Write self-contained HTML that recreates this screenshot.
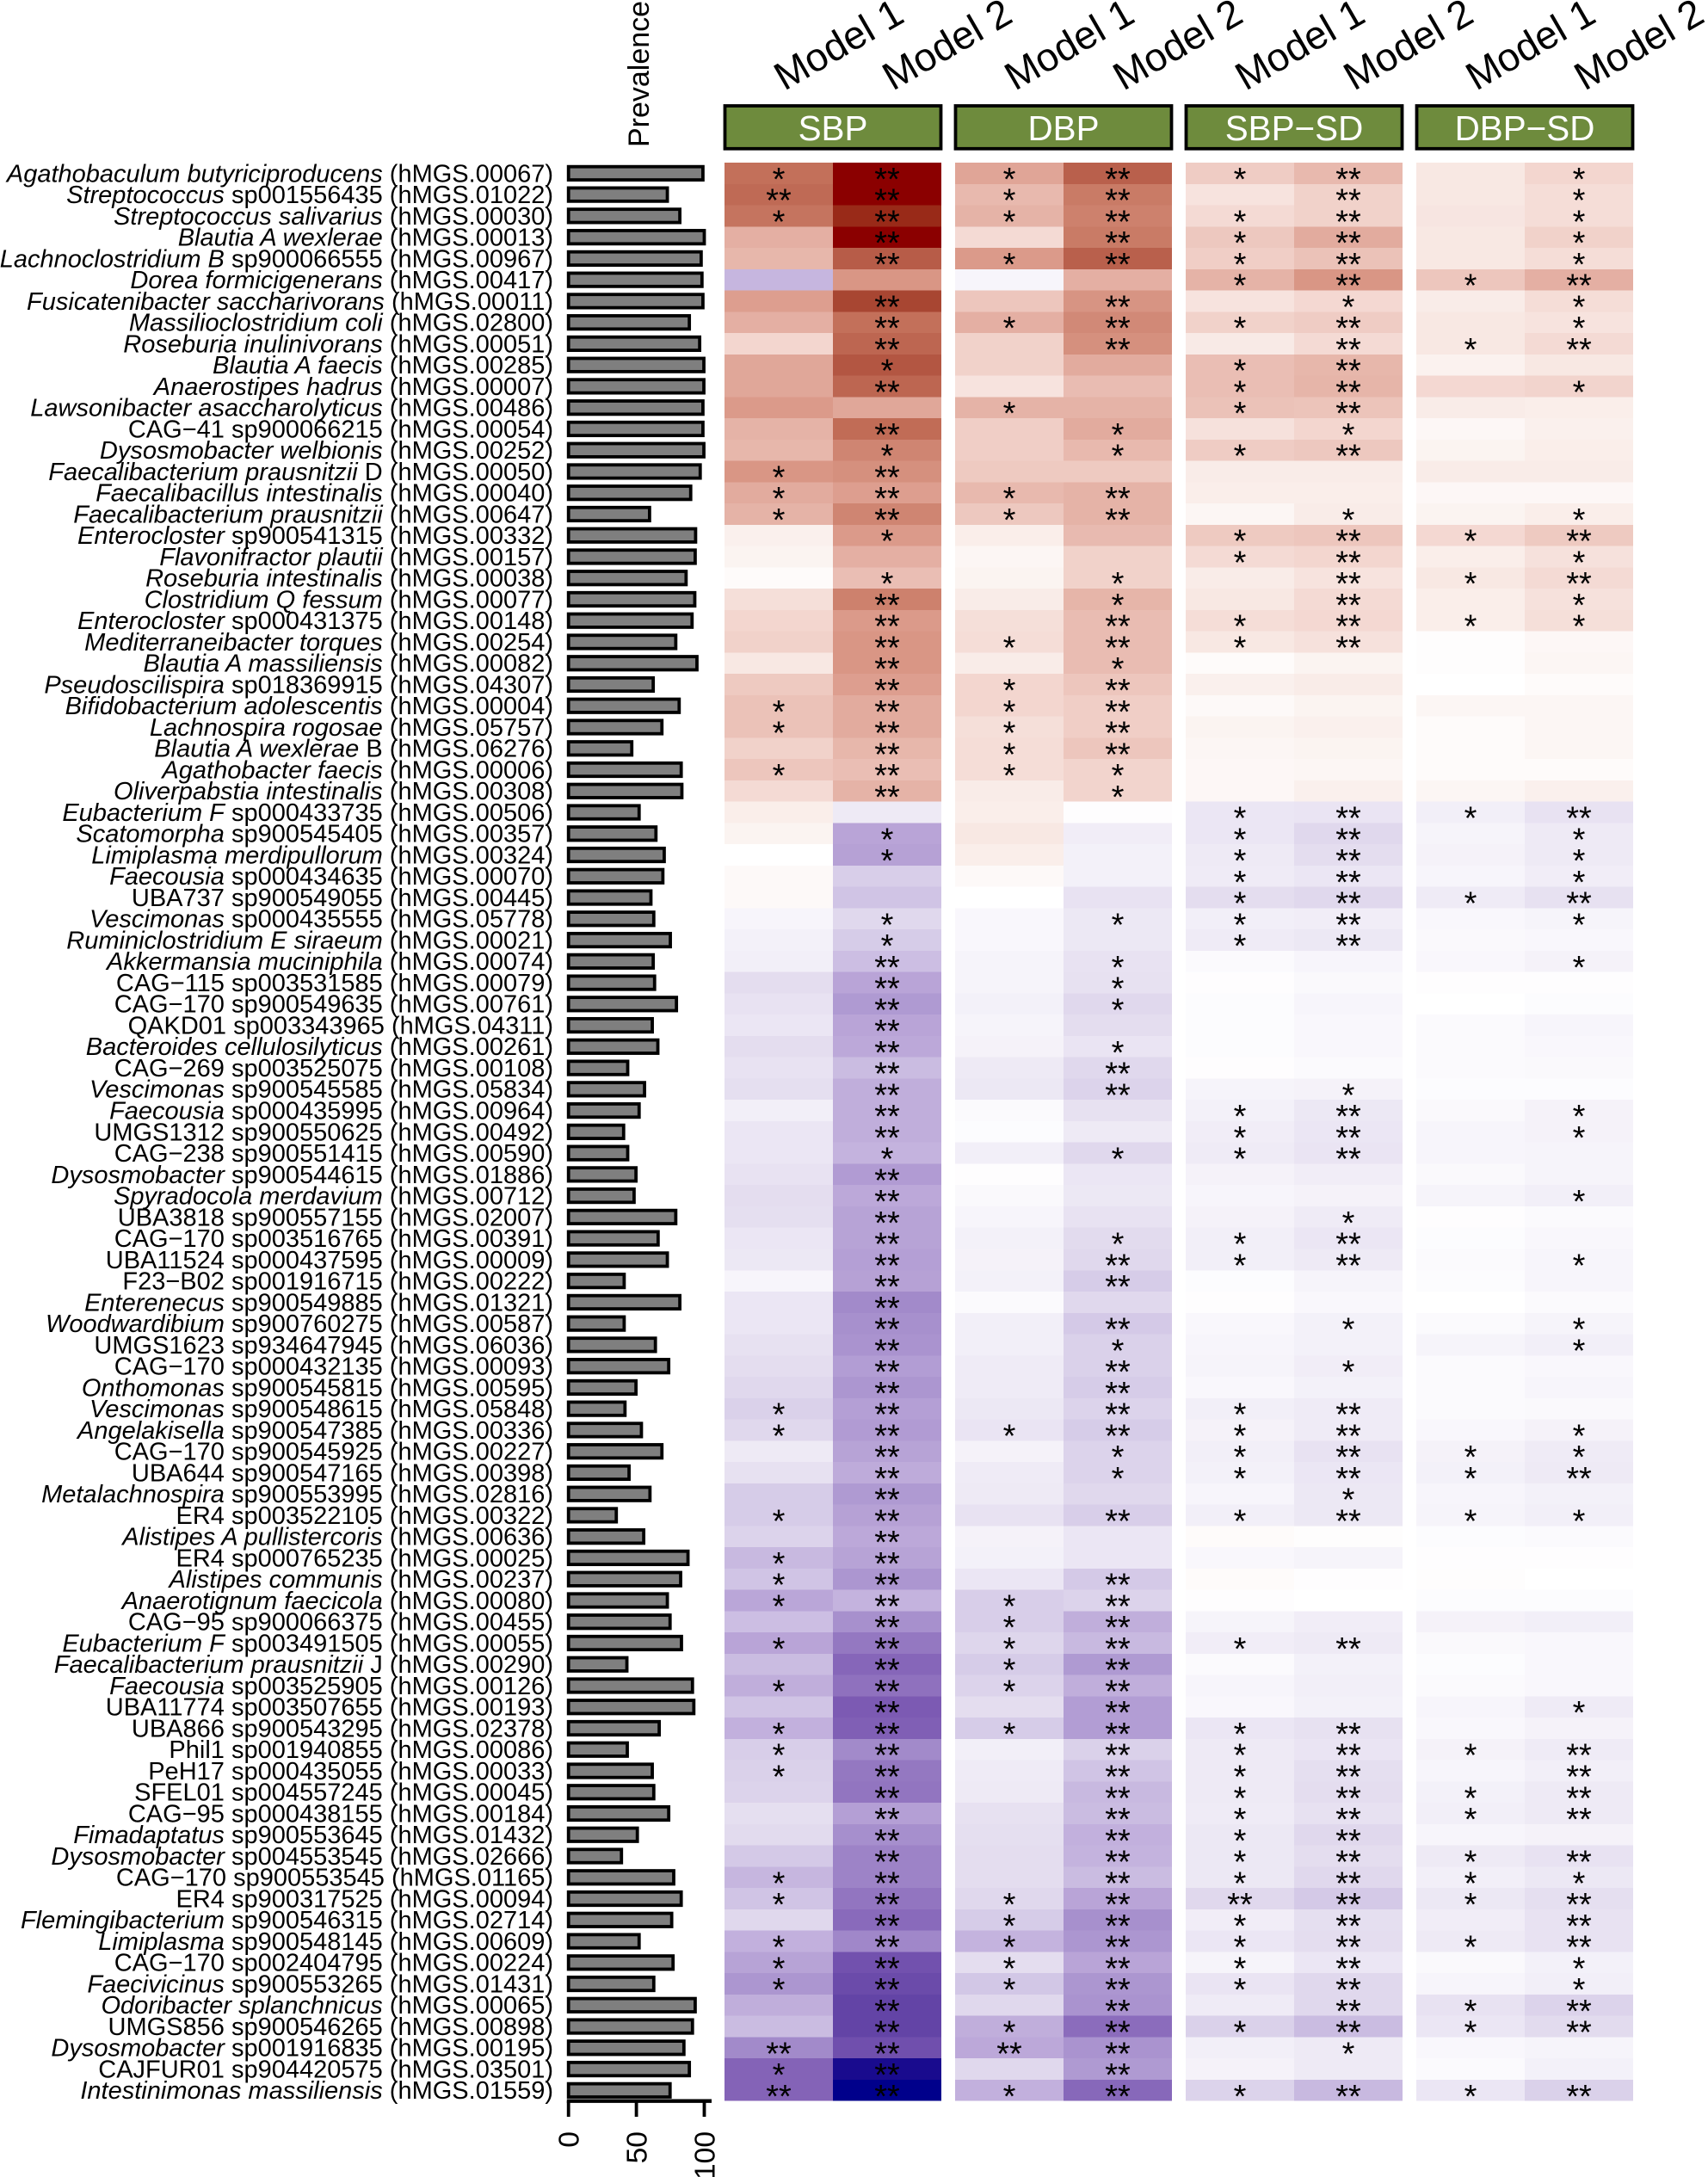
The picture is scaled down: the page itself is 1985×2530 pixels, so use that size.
<!DOCTYPE html>
<html lang="en">
<head>
<meta charset="utf-8">
<title>Species associations with blood pressure</title>
<style>
html,body{margin:0;padding:0;background:#fff;}
body{width:1985px;height:2530px;overflow:hidden;}
svg{display:block;font-family:"Liberation Sans",Arial,sans-serif;}
</style>
</head>
<body>
<svg id="chart" xmlns="http://www.w3.org/2000/svg" width="1985" height="2530" viewBox="0 0 1985 2530"></svg>
<script>
const panelLabels = ["SBP", "DBP", "SBP\u2212SD", "DBP\u2212SD"];
const modelLabels = ["Model 1", "Model 2"];
const prevalenceTicks = [0, 50, 100];

const italicNames = [
"Agathobaculum butyriciproducens","Streptococcus","Streptococcus salivarius","Blautia A wexlerae","Lachnoclostridium B","Dorea formicigenerans","Fusicatenibacter saccharivorans","Massilioclostridium coli","Roseburia inulinivorans","Blautia A faecis",
"Anaerostipes hadrus","Lawsonibacter asaccharolyticus","","Dysosmobacter welbionis","Faecalibacterium prausnitzii","Faecalibacillus intestinalis","Faecalibacterium prausnitzii","Enterocloster","Flavonifractor plautii","Roseburia intestinalis",
"Clostridium Q fessum","Enterocloster","Mediterraneibacter torques","Blautia A massiliensis","Pseudoscilispira","Bifidobacterium adolescentis","Lachnospira rogosae","Blautia A wexlerae","Agathobacter faecis","Oliverpabstia intestinalis",
"Eubacterium F","Scatomorpha","Limiplasma merdipullorum","Faecousia","","Vescimonas","Ruminiclostridium E siraeum","Akkermansia muciniphila","","",
"","Bacteroides cellulosilyticus","","Vescimonas","Faecousia","","","Dysosmobacter","Spyradocola merdavium","",
"","","","Enterenecus","Woodwardibium","","","Onthomonas","Vescimonas","Angelakisella",
"","","Metalachnospira","","Alistipes A pullistercoris","","Alistipes communis","Anaerotignum faecicola","","Eubacterium F",
"Faecalibacterium prausnitzii","Faecousia","","","","","","","Fimadaptatus","Dysosmobacter",
"","","Flemingibacterium","Limiplasma","","Faecivicinus","Odoribacter splanchnicus","","Dysosmobacter","",
"Intestinimonas massiliensis"];

const plainNames = [
"","sp001556435","","","sp900066555","","","","","",
"","","CAG\u221241 sp900066215","","D","","","sp900541315","","",
"","sp000431375","","","sp018369915","","","B","","",
"sp000433735","sp900545405","","sp000434635","UBA737 sp900549055","sp000435555","","","CAG\u2212115 sp003531585","CAG\u2212170 sp900549635",
"QAKD01 sp003343965","","CAG\u2212269 sp003525075","sp900545585","sp000435995","UMGS1312 sp900550625","CAG\u2212238 sp900551415","sp900544615","","UBA3818 sp900557155",
"CAG\u2212170 sp003516765","UBA11524 sp000437595","F23\u2212B02 sp001916715","sp900549885","sp900760275","UMGS1623 sp934647945","CAG\u2212170 sp000432135","sp900545815","sp900548615","sp900547385",
"CAG\u2212170 sp900545925","UBA644 sp900547165","sp900553995","ER4 sp003522105","","ER4 sp000765235","","","CAG\u221295 sp900066375","sp003491505",
"J","sp003525905","UBA11774 sp003507655","UBA866 sp900543295","Phil1 sp001940855","PeH17 sp000435055","SFEL01 sp004557245","CAG\u221295 sp000438155","sp900553645","sp004553545",
"CAG\u2212170 sp900553545","ER4 sp900317525","sp900546315","sp900548145","CAG\u2212170 sp002404795","sp900553265","","UMGS856 sp900546265","sp001916835","CAJFUR01 sp904420575",
""];

const hmgsIds = [
"00067","01022","00030","00013","00967","00417","00011","02800","00051","00285",
"00007","00486","00054","00252","00050","00040","00647","00332","00157","00038",
"00077","00148","00254","00082","04307","00004","05757","06276","00006","00308",
"00506","00357","00324","00070","00445","05778","00021","00074","00079","00761",
"04311","00261","00108","05834","00964","00492","00590","01886","00712","02007",
"00391","00009","00222","01321","00587","06036","00093","00595","05848","00336",
"00227","00398","02816","00322","00636","00025","00237","00080","00455","00055",
"00290","00126","00193","02378","00086","00033","00045","00184","01432","02666",
"01165","00094","02714","00609","00224","01431","00065","00898","00195","03501",
"01559"];

const prevalence = [
99,72.8,82,100,97.7,98.3,99,89,96.6,99.7,
99.7,99,99,99.7,97,90,59.7,93.6,93.3,86.6,
93,91,79,94.6,62.4,81.5,68.8,46.6,83,83.5,
52,64.4,70.5,69.5,60.7,62.8,75,62.4,63.4,79.5,
61.7,65.8,43.6,56,52,40.6,43.6,49.7,48.3,79,
66,72.8,41,82,41,64,73.8,49.7,41.6,53.7,
68.8,44.6,60,35.2,55.4,88,82.6,72.8,74.8,83.2,
43,91.3,92.3,66.8,43.3,61.7,62.8,73.8,50.7,39,
77.5,83,76,52,77,62.8,93.3,91.3,85,89,
74.8];

/* one row per species; columns: SBP M1, SBP M2, DBP M1, DBP M2, SBP-SD M1, M2, DBP-SD M1, M2 */
const effects = [
[70,100,45,78,25,35,12,20],[73,100,35,65,14,22,12,17],[68,94,38,62,18,22,13,17],[40,100,18,65,27,42,12,22],[36,80,50,78,24,30,12,17],
[-35,52,-6,40,38,52,28,40],[48,88,28,53,14,19,10,17],[40,70,40,58,22,25,12,14],[20,75,22,55,11,18,12,18],[44,82,22,42,32,36,7,12],
[44,75,14,33,32,37,19,21],[50,44,38,38,30,29,10,9],[38,72,24,42,15,20,4,8],[36,60,24,35,25,27,6,9],[52,55,26,26,10,10,10,10],
[42,48,35,38,9,9,4,4],[38,60,27,38,5,10,6,9],[8,50,9,34,26,28,19,26],[6,40,5,22,18,20,9,15],[2,32,6,22,10,14,12,18],
[16,62,10,37,12,18,9,15],[20,50,16,33,17,19,9,16],[22,52,17,33,12,15,1,4],[12,52,10,33,2,6,1,5],[26,48,20,28,8,10,0,2],
[30,42,20,24,3,6,5,5],[30,42,16,24,6,8,2,5],[22,36,17,28,5,6,2,5],[28,32,17,21,4,5,2,2],[18,38,10,21,4,8,5,8],
[9,-13,9,-1,-15,-16,-10,-17],[6,-42,12,-11,-15,-22,-7,-13],[0,-44,9,-9,-13,-20,-8,-13],[3,-26,3,-9,-12,-15,-6,-11],[3,-30,0,-17,-20,-22,-12,-18],
[-6,-22,-5,-14,-10,-11,-5,-7],[-9,-27,-5,-14,-12,-14,-4,-5],[-10,-32,-7,-17,-3,-6,-5,-8],[-20,-42,-7,-18,-1,-4,-1,-1],[-17,-48,-9,-22,-2,-6,0,-2],
[-15,-42,-7,-20,-2,-5,-3,-6],[-20,-40,-8,-16,-2,-5,-3,-5],[-17,-33,-13,-22,-1,-3,-3,-4],[-19,-38,-14,-24,-7,-8,-2,-2],[-10,-38,-3,-18,-9,-14,-4,-8],
[-15,-38,-2,-13,-11,-15,-6,-8],[-15,-36,-10,-22,-12,-16,-6,-7],[-17,-47,-1,-15,-8,-11,-4,-7],[-20,-40,-4,-14,-6,-8,-7,-10],[-19,-43,-6,-17,-8,-12,-1,-3],
[-15,-43,-9,-21,-10,-15,-2,-5],[-14,-45,-8,-22,-10,-13,-3,-6],[-6,-44,-9,-27,-2,-7,-2,-6],[-15,-58,-3,-22,-1,-5,0,-3],[-15,-54,-10,-28,-5,-9,-3,-7],
[-18,-52,-10,-25,-6,-9,-7,-10],[-20,-46,-12,-25,-7,-11,-3,-5],[-22,-50,-12,-27,-5,-9,-3,-6],[-25,-45,-14,-24,-10,-12,-3,-4],[-22,-47,-16,-27,-8,-12,-5,-8],
[-13,-43,-8,-24,-10,-17,-8,-12],[-18,-39,-12,-24,-9,-15,-9,-13],[-27,-48,-13,-22,-6,-14,-6,-9],[-27,-44,-17,-26,-10,-14,-7,-10],[-24,-40,-8,-15,2,1,-2,-3],
[-34,-43,-9,-15,-5,-7,-1,-1],[-30,-50,-15,-28,2,-1,1,0],[-41,-36,-26,-24,-1,0,-2,-2],[-32,-54,-26,-38,-7,-11,-8,-10],[-42,-67,-23,-34,-11,-13,-4,-5],
[-33,-75,-27,-48,-3,-9,-2,-5],[-38,-70,-24,-38,-6,-10,-3,-5],[-30,-80,-20,-46,-5,-9,-6,-12],[-37,-78,-27,-46,-15,-18,-5,-8],[-26,-58,-10,-25,-13,-16,-8,-12],
[-25,-67,-12,-30,-13,-19,-6,-10],[-24,-68,-13,-34,-13,-20,-9,-13],[-19,-45,-18,-33,-12,-18,-10,-13],[-21,-55,-19,-37,-14,-22,-6,-8],[-28,-62,-20,-36,-14,-20,-13,-17],
[-35,-62,-20,-33,-14,-22,-10,-14],[-30,-68,-22,-42,-22,-28,-14,-19],[-22,-73,-27,-54,-11,-19,-11,-17],[-37,-60,-36,-50,-15,-20,-13,-17],[-43,-84,-20,-42,-7,-15,-4,-9],
[-50,-87,-29,-50,-16,-22,-6,-10],[-38,-90,-22,-52,-12,-22,-17,-24],[-33,-90,-38,-72,-25,-33,-15,-21],[-58,-85,-40,-52,-10,-13,-5,-7],[-76,-97,-22,-48,-8,-13,-3,-9],
[-76,-100,-37,-74,-24,-34,-15,-25]];

/* number of asterisks printed in each cell, same layout as effects */
const significance = [
[1,2,1,2,1,2,0,1],[2,2,1,2,0,2,0,1],[1,2,1,2,1,2,0,1],[0,2,0,2,1,2,0,1],[0,2,1,2,1,2,0,1],
[0,0,0,0,1,2,1,2],[0,2,0,2,0,1,0,1],[0,2,1,2,1,2,0,1],[0,2,0,2,0,2,1,2],[0,1,0,0,1,2,0,0],
[0,2,0,0,1,2,0,1],[0,0,1,0,1,2,0,0],[0,2,0,1,0,1,0,0],[0,1,0,1,1,2,0,0],[1,2,0,0,0,0,0,0],
[1,2,1,2,0,0,0,0],[1,2,1,2,0,1,0,1],[0,1,0,0,1,2,1,2],[0,0,0,0,1,2,0,1],[0,1,0,1,0,2,1,2],
[0,2,0,1,0,2,0,1],[0,2,0,2,1,2,1,1],[0,2,1,2,1,2,0,0],[0,2,0,1,0,0,0,0],[0,2,1,2,0,0,0,0],
[1,2,1,2,0,0,0,0],[1,2,1,2,0,0,0,0],[0,2,1,2,0,0,0,0],[1,2,1,1,0,0,0,0],[0,2,0,1,0,0,0,0],
[0,0,0,0,1,2,1,2],[0,1,0,0,1,2,0,1],[0,1,0,0,1,2,0,1],[0,0,0,0,1,2,0,1],[0,0,0,0,1,2,1,2],
[0,1,0,1,1,2,0,1],[0,1,0,0,1,2,0,0],[0,2,0,1,0,0,0,1],[0,2,0,1,0,0,0,0],[0,2,0,1,0,0,0,0],
[0,2,0,0,0,0,0,0],[0,2,0,1,0,0,0,0],[0,2,0,2,0,0,0,0],[0,2,0,2,0,1,0,0],[0,2,0,0,1,2,0,1],
[0,2,0,0,1,2,0,1],[0,1,0,1,1,2,0,0],[0,2,0,0,0,0,0,0],[0,2,0,0,0,0,0,1],[0,2,0,0,0,1,0,0],
[0,2,0,1,1,2,0,0],[0,2,0,2,1,2,0,1],[0,2,0,2,0,0,0,0],[0,2,0,0,0,0,0,0],[0,2,0,2,0,1,0,1],
[0,2,0,1,0,0,0,1],[0,2,0,2,0,1,0,0],[0,2,0,2,0,0,0,0],[1,2,0,2,1,2,0,0],[1,2,1,2,1,2,0,1],
[0,2,0,1,1,2,1,1],[0,2,0,1,1,2,1,2],[0,2,0,0,0,1,0,0],[1,2,0,2,1,2,1,1],[0,2,0,0,0,0,0,0],
[1,2,0,0,0,0,0,0],[1,2,0,2,0,0,0,0],[1,2,1,2,0,0,0,0],[0,2,1,2,0,0,0,0],[1,2,1,2,1,2,0,0],
[0,2,1,2,0,0,0,0],[1,2,1,2,0,0,0,0],[0,2,0,2,0,0,0,1],[1,2,1,2,1,2,0,0],[1,2,0,2,1,2,1,2],
[1,2,0,2,1,2,0,2],[0,2,0,2,1,2,1,2],[0,2,0,2,1,2,1,2],[0,2,0,2,1,2,0,0],[0,2,0,2,1,2,1,2],
[1,2,0,2,1,2,1,1],[1,2,1,2,2,2,1,2],[0,2,1,2,1,2,0,2],[1,2,1,2,1,2,1,2],[1,2,1,2,1,2,0,1],
[1,2,1,2,1,2,0,1],[0,2,0,2,0,2,1,2],[0,2,1,2,1,2,1,2],[2,2,2,2,0,1,0,0],[1,2,0,2,0,0,0,0],
[2,2,1,2,1,2,1,2]];

/* ---------- layout ---------- */
const NS = "http://www.w3.org/2000/svg";
const svg = document.getElementById("chart");
const FONT_LABEL = 29, FONT_AXIS = 33.6, FONT_MODEL = 46, FONT_STRIP = 40.4, FONT_STAR = 38;
const heatTop = 189, heatBottom = 2441.7;
const rowHeight = (heatBottom - heatTop) / effects.length;
const panelLeft = 842, panelWidth = 252, panelStep = 268;
const barZero = 660.7, barPerUnit = 1.578, barHeight = 15.4;
const scaleStops = [
 [-100,[0,0,139]],[-95,[42,18,144]],[-90,[99,68,166]],[-80,[124,90,179]],[-70,[143,113,190]],[-60,[160,135,201]],
 [-50,[172,150,208]],[-40,[188,168,217]],[-30,[208,196,229]],[-20,[228,221,239]],[-10,[242,239,248]],
 [0,[255,255,255]],[10,[249,236,232]],[20,[243,214,207]],[30,[235,194,184]],[40,[228,175,163]],[50,[219,154,138]],
 [60,[207,133,114]],[70,[195,112,90]],[80,[183,92,72]],[90,[164,64,44]],[95,[150,36,19]],[100,[139,0,0]]];

function xOfPrevalence(v){ return barZero + v * barPerUnit; }
function yOfRow(i){ return heatTop + i * rowHeight; }
function xOfColumn(c){
  const panel = Math.floor(c / 2);
  return panelLeft + panel * panelStep + (c % 2) * panelWidth / 2;
}
function colorOf(v){
  const t = Math.max(-100, Math.min(100, v));
  for (let k = 1; k < scaleStops.length; k++) {
    const a = scaleStops[k-1], b = scaleStops[k];
    if (t <= b[0]) {
      const f = (t - a[0]) / (b[0] - a[0]);
      const ch = [0,1,2].map(j => Math.round(a[1][j] + (b[1][j] - a[1][j]) * f));
      return "rgb(" + ch.join(",") + ")";
    }
  }
  return "rgb(139,0,0)";
}
function make(tag, attrs, text){
  const el = document.createElementNS(NS, tag);
  for (const k in attrs) el.setAttribute(k, attrs[k]);
  if (text !== undefined) el.textContent = text;
  return el;
}

/* ---------- row labels and prevalence bars ---------- */
effects.forEach(function(row, i){
  const cy = yOfRow(i) + rowHeight / 2;
  const label = make("text", {x: 643, y: cy + 9.9, "text-anchor": "end", "font-size": FONT_LABEL, fill: "#000"});
  
  
  if (italicNames[i]) {
    const it = make("tspan", {"font-style": "italic"}, italicNames[i]);
    label.appendChild(it);
    label.appendChild(document.createTextNode(" "));
  }
  if (plainNames[i]) {
    label.appendChild(document.createTextNode(plainNames[i] + " "));
  }
  label.appendChild(document.createTextNode("(hMGS." + hmgsIds[i] + ")"));
  svg.appendChild(label);

  const bar = make("rect", {x: barZero, y: cy - barHeight / 2, width: xOfPrevalence(prevalence[i]) - barZero, height: barHeight, fill: "#7f7f7f", stroke: "#000", "stroke-width": 3.8});
  
  
  svg.appendChild(bar);
});

/* ---------- prevalence axis ---------- */
const axisLine = make("line", {x1: barZero - 1.9, x2: 827, y1: 2441.7, y2: 2441.7, stroke: "#000", "stroke-width": 4.4});


svg.appendChild(axisLine);
prevalenceTicks.forEach(function(t){
  const x = xOfPrevalence(t);
  const tick = make("line", {x1: x, x2: x, y1: 2441.7, y2: 2460, stroke: "#000", "stroke-width": 3.8});
  
  
  svg.appendChild(tick);
  const tx = x + 12, ty = 2477;
  const lab = make("text", {x: tx, y: ty, "text-anchor": "end", "font-size": FONT_AXIS, fill: "#000", transform: "rotate(-90 " + tx + " " + ty + ")"}, String(t));
  
  
  svg.appendChild(lab);
});
const prevTitle = make("text", {x: 754.2, y: 171, "font-size": 34, fill: "#000", transform: "rotate(-90 754.2 171)"}, "Prevalence");


svg.appendChild(prevTitle);

/* ---------- strips and model labels ---------- */
panelLabels.forEach(function(name, p){
  const left = panelLeft + p * panelStep;
  const strip = make("rect", {x: left + 0.5, y: 123, width: panelWidth - 1, height: 49.8, fill: "#6e8b3d", stroke: "#000", "stroke-width": 3.8});
  
  
  svg.appendChild(strip);
  const st = make("text", {x: left + panelWidth / 2, y: 163, "text-anchor": "middle", "font-size": FONT_STRIP, fill: "#fff"}, name);
  
  
  svg.appendChild(st);
  modelLabels.forEach(function(m, k){
    const mx = left + 69.5 + k * panelWidth / 2, my = 106;
    const mt = make("text", {x: mx, y: my, "font-size": FONT_MODEL, fill: "#000", transform: "rotate(-30 " + mx + " " + my + ")"}, m);
    
    
    svg.appendChild(mt);
  });
});

/* ---------- heatmap cells ---------- */
effects.forEach(function(row, i){
  row.forEach(function(v, c){
    const y0 = yOfRow(i), y1 = yOfRow(i + 1);
    const cell = make("rect", {x: xOfColumn(c), y: y0, width: panelWidth / 2, height: y1 - y0, fill: colorOf(v), "shape-rendering": "crispEdges"});
    
    
    svg.appendChild(cell);
  });
});
/* ---------- significance stars ---------- */
significance.forEach(function(row, i){
  row.forEach(function(n, c){
    if (!n) return;
    const s = make("text", {x: xOfColumn(c) + panelWidth / 4, y: yOfRow(i) + rowHeight / 2 + 19.5, "text-anchor": "middle", "font-size": FONT_STAR, fill: "#000"}, "*".repeat(n));
    
    
    svg.appendChild(s);
  });
});
</script>
</body>
</html>
